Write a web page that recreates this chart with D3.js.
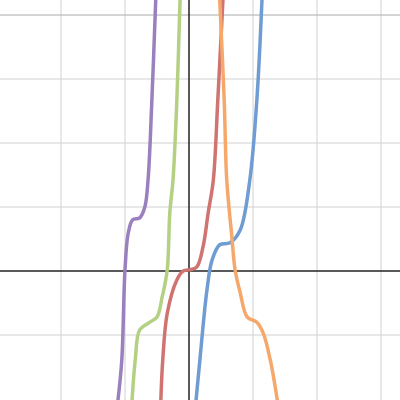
<!DOCTYPE html><html><head><meta charset="utf-8">
<script src="https://cdn.jsdelivr.net/npm/d3@7"></script>
<style>body{margin:0;background:#fff}</style></head><body>
<svg id="c" width="400" height="400"></svg>
<script>
const gridX = [-2,-1,1,2,3];
const gridY = [-1,1,2,3,4];
const seriesNames = ["purple","green","red","blue","orange"];
const seriesColors = ["#9b80bf","#b3d083","#cf7470","#6f9cd2","#f6a86b"];
const purple = [[-1.11,-2.02],[-1.05,-1.39],[-1.0,0.02],[-0.95,0.59],[-0.88,0.80],[-0.77,0.83],[-0.69,1.0],[-0.64,1.42],[-0.58,2.67],[-0.52,4.23]];
const green = [[-0.89,-2.02],[-0.84,-1.39],[-0.77,-0.92],[-0.61,-0.80],[-0.5,-0.72],[-0.42,-0.41],[-0.34,0.02],[-0.30,0.91],[-0.25,1.42],[-0.19,2.67],[-0.14,4.23]];
const red = [[-0.44,-2.02],[-0.41,-1.39],[-0.34,-0.66],[-0.19,-0.14],[-0.09,0],[0.02,0.02],[0.12,0.06],[0.22,0.38],[0.30,0.91],[0.38,1.42],[0.45,2.67],[0.53,4.23]];
const blue = [[0.11,-2.02],[0.17,-1.39],[0.28,-0.30],[0.36,0.17],[0.48,0.41],[0.64,0.44],[0.80,0.64],[0.95,1.42],[1.06,2.67],[1.14,4.23]];
const orange = [[0.48,4.23],[0.55,2.67],[0.59,1.42],[0.67,0.53],[0.72,0.02],[0.80,-0.34],[0.91,-0.72],[1.06,-0.80],[1.16,-0.97],[1.27,-1.39],[1.38,-2.02]];
const series = [purple, green, red, blue, orange];

const svg = d3.select("#c");
const x = d3.scaleLinear().domain([-189/64, 211/64]).range([0,400]);
const y = d3.scaleLinear().domain([-129/64, 271/64]).range([400,0]);
svg.append("g").selectAll("line").data(gridX).join("line")
  .attr("x1",d=>x(d)).attr("x2",d=>x(d)).attr("y1",0).attr("y2",400)
  .attr("stroke","#d0d0d0").attr("stroke-width",1);
svg.append("g").selectAll("line").data(gridY).join("line")
  .attr("y1",d=>y(d)).attr("y2",d=>y(d)).attr("x1",0).attr("x2",400)
  .attr("stroke",d=>d===4?"#aaa":"#d0d0d0").attr("stroke-width",1);
svg.append("line").attr("x1",x(0)).attr("x2",x(0)).attr("y1",0).attr("y2",400).attr("stroke","#222").attr("stroke-width",1.5);
svg.append("line").attr("y1",y(0)).attr("y2",y(0)).attr("x1",0).attr("x2",400).attr("stroke","#222").attr("stroke-width",1.5);
const line = d3.line().x(d=>x(d[0])).y(d=>y(d[1])).curve(d3.curveCatmullRom.alpha(0.5));
svg.append("g").selectAll("path").data(series).join("path")
  .attr("d",line).attr("fill","none")
  .attr("stroke",(d,i)=>seriesColors[i]).attr("stroke-width",3.5)
  .attr("stroke-linecap","round").attr("stroke-linejoin","round");
</script></body></html>
